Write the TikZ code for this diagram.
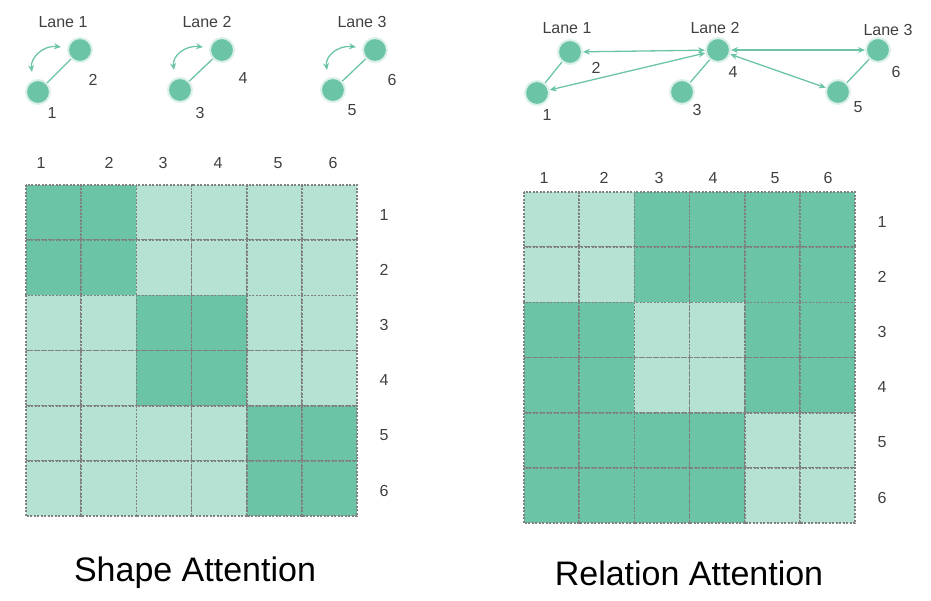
\documentclass[tikz,border=0pt]{standalone}
\usepackage{fontspec}
\setmainfont{Liberation Sans}
\usetikzlibrary{arrows.meta,calc}
\definecolor{dk}{HTML}{6CC4A6}
\definecolor{lt}{HTML}{B5E2D3}
\definecolor{txt}{HTML}{404040}
\begin{document}
\begin{tikzpicture}[x=1pt,y=-1pt,
 pt/.style={circle,fill=dk,draw=dk!25,line width=2pt,minimum size=24pt,inner sep=0pt},
 lab/.style={text=txt,font=\fontsize{16}{16}\selectfont},
 big/.style={text=black,font=\fontsize{34}{34}\selectfont},
 ln/.style={draw=dk,line width=1.3pt},
 ar/.style={ln,{Stealth[length=7pt,width=6pt]}-{Stealth[length=7pt,width=6pt]}},
 cell/.style={draw=gray,line width=1.6pt,dash pattern=on 2pt off 1.5pt}]
\useasboundingbox (0,0) rectangle (931,601);
% left graphs
\foreach \i/\ax/\ay/\bx/\by/\la/\lb/\lname/\lx/\alx/\aly/\blx/\bly in
 {1/38/92/80/50/1/2/Lane 1/63/52/113/93/80,
  2/180/90/222/50/3/4/Lane 2/207/200/113/243/78,
  3/333/90/375/50/5/6/Lane 3/362/352/110/392/80}{
  \node[pt] (la\i) at (\ax,\ay) {};
  \node[pt] (lb\i) at (\bx,\by) {};
  \draw[ln] (la\i) -- (lb\i);
  \node[lab] (ln\i) at (\lx,22) {\lname};
  \node[lab] (tla\i) at (\alx,\aly) {\la};
  \node[lab] (tlb\i) at (\blx,\bly) {\lb};
  \coordinate (c1\i) at ($(lb\i)+(-19,-3)$);
  \coordinate (c2\i) at ($(la\i)+(-6,-20)$);
}
\foreach \i in {1,2,3}
 \draw[ar] (c1\i) .. controls ($(c1\i)+(-18,-2)$) and ($(c2\i)+(-2,-14)$) .. (c2\i);
% right graph
\foreach \n/\x/\y in {1/537/93,2/570/52,3/682/92,4/718/50,5/838/92,6/878/50}
 \node[pt] (r\n) at (\x,\y) {};
\draw[ln] (r1)--(r2); \draw[ln] (r3)--(r4); \draw[ln] (r5)--(r6);
\draw[ar] (r2)--(r4); \draw[ar] (r4)--(r6); \draw[ar] (r4)--(r1); \draw[ar] (r4)--(r5);
\foreach \t/\x/\y in {Lane 1/567/28,2/596/68,1/547/115,Lane 2/715/28,4/733/72,3/697/110,Lane 3/888/30,6/896/72,5/858/107}
 \node[lab] at (\x,\y) {\t};
% grids
\def\cs{55.2}
\foreach \r in {1,...,6}{\foreach \c in {1,...,6}{
  \pgfmathtruncatemacro{\gr}{ceil(\r/2)}\pgfmathtruncatemacro{\gc}{ceil(\c/2)}
  \ifnum\gr=\gc \def\fa{dk}\def\fb{lt}\else\def\fa{lt}\def\fb{dk}\fi
  \draw[cell,fill=\fa] (26+\cs*\c-\cs,185+\cs*\r-\cs) rectangle ++(\cs,\cs);
  \draw[cell,fill=\fb] (524+\cs*\c-\cs,192+\cs*\r-\cs) rectangle ++(\cs,\cs);
}}
\foreach \k/\xl/\xr in {1/41/544,2/109/604,3/163/659,4/218/713,5/278/775,6/333/828}{
 \node[lab] at (\xl,163) {\k};
 \node[lab] at (\xr,178) {\k};
}
\foreach \k in {1,...,6}{
 \node[lab] at (384,185+\cs*\k-\cs/2+2) {\k};
 \node[lab] at (882,192+\cs*\k-\cs/2+2) {\k};
}
\node[big] (t1) at (195,573) {Shape Attention};
\node[big] (t2) at (689,573) {Relation Attention};
\end{tikzpicture}
\end{document}
